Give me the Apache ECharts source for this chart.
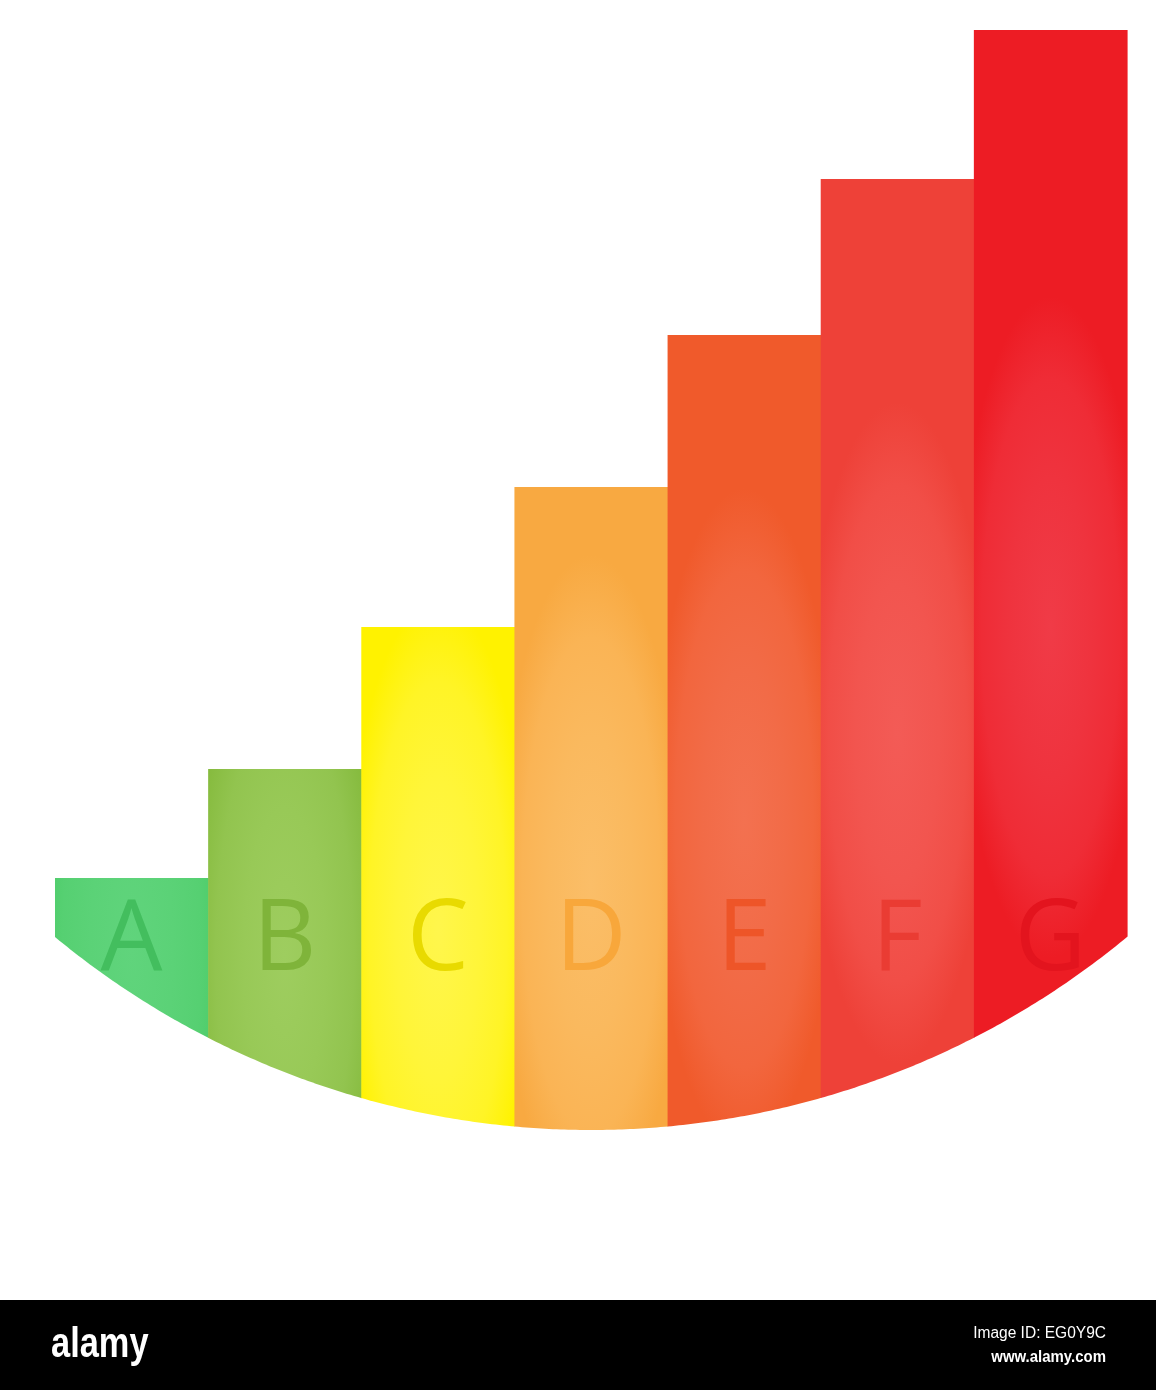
<!DOCTYPE html>
<html>
<head>
<meta charset="utf-8">
<script src="https://cdn.jsdelivr.net/npm/echarts@6/dist/echarts.min.js"></script>
<style>html,body{margin:0;padding:0;background:#fff}#chart{width:1156px;height:1390px}</style>
</head>
<body>
<div id="chart"></div>
<script>
// Data
var categories = ['A', 'B', 'C', 'D', 'E', 'F', 'G'];
var values = [25.2, 36.1, 50.3, 64.3, 79.5, 95.1, 110];
var edgeColors = ['#4bcb67', '#86bb3e', '#fff200', '#f8a941', '#f05a2b', '#ee4138', '#ed1c24'];
var midColors = ['#60d47c', '#9ecd5f', '#fff64c', '#fbbe68', '#f37150', '#f35b56', '#f03b47'];
var letterColors = ['#43be5e', '#7fb43a', '#e8da00', '#f8a73b', '#ee5528', '#ea3c33', '#e3141e'];
var ARC_EDGE = 19.3;   // value of the arc at the left/right edges of the plot
var LETTER_VALUE = 18.8;
var GLOW_POS = 0.62;   // where the highlight sits, as a share of the bar height
var GLOW_STRETCH = 3.6;

var chart = echarts.init(document.getElementById('chart'), null, {renderer: 'canvas'});

function renderItem(params, api) {
  var cs = params.coordSys;
  var i = api.value(0);
  var top = api.coord([i, api.value(1)]);
  var bw = api.size([1, 0])[0];
  var x0 = top[0] - bw / 2, x1 = top[0] + bw / 2 + 0.6;
  var cx = cs.x + cs.width / 2;
  var yLow = api.coord([i, 0])[1];
  var yEdge = api.coord([i, ARC_EDGE])[1];
  var half = cs.width / 2;
  var d = yLow - yEdge;
  var R = (half * half + d * d) / (2 * d);
  var cy = yLow - R;
  function arcY(x) { var dx = x - cx; return cy + Math.sqrt(Math.max(0, R * R - dx * dx)); }
  var bottomMid = arcY(top[0]);
  var oy = top[1] + (bottomMid - top[1]) * GLOW_POS;
  var s = GLOW_STRETCH;
  var pts = [[x0, (top[1] - oy) / s], [x1, (top[1] - oy) / s]];
  var N = 40;
  for (var k = 0; k <= N; k++) {
    var x = x1 - (x1 - x0) * k / N;
    pts.push([x, (arcY(x) - oy) / s]);
  }
  var idx = params.dataIndex;
  var mix = echarts.color.lerp(0.5, [midColors[idx], edgeColors[idx]]);
  return {
    type: 'group',
    children: [
      {
        type: 'polygon',
        y: oy,
        scaleY: s,
        shape: {points: pts},
        style: {
          fill: new echarts.graphic.RadialGradient(top[0], 0, bw * 0.6, [
            {offset: 0, color: midColors[idx]},
            {offset: 0.45, color: echarts.color.lerp(0.25, [midColors[idx], edgeColors[idx]])},
            {offset: 0.75, color: mix},
            {offset: 1, color: edgeColors[idx]}
          ], true)
        }
      },
      {
        type: 'text',
        style: {
          text: categories[idx],
          x: top[0],
          y: api.coord([i, LETTER_VALUE])[1],
          align: 'center',
          verticalAlign: 'middle',
          fontFamily: 'Open Sans',
          fontWeight: 'normal',
          fontSize: 98,
          fill: letterColors[idx]
        }
      }
    ]
  };
}

var data = values.map(function (v, i) { return [i, v]; });

chart.setOption({
  animation: false,
  backgroundColor: '#ffffff',
  grid: {left: 55, right: 29, top: 30, bottom: 260},
  xAxis: {type: 'category', data: categories, show: false, boundaryGap: true},
  yAxis: {type: 'value', min: 0, max: 110, show: false},
  series: [{
    type: 'custom',
    renderItem: renderItem,
    data: data,
    clip: false
  }],
  graphic: [
    {type: 'rect', left: 0, top: 1300, shape: {width: 1156, height: 90}, style: {fill: '#000000'}},
    {type: 'text', x: 51, y: 1345, scaleX: 0.8,
      style: {text: 'alamy', x: 0, y: 0, verticalAlign: 'middle', fill: '#ffffff', fontFamily: 'Liberation Sans', fontWeight: 'bold', fontSize: 43}},
    {type: 'text', x: 1106, y: 1334, scaleX: 0.97,
      style: {text: 'Image ID: EG0Y9C', x: 0, y: 0, align: 'right', verticalAlign: 'middle', fill: '#ffffff', fontFamily: 'Liberation Sans', fontSize: 16}},
    {type: 'text', x: 1106, y: 1357, scaleX: 0.88,
      style: {text: 'www.alamy.com', x: 0, y: 0, align: 'right', verticalAlign: 'middle', fill: '#ffffff', fontFamily: 'Liberation Sans', fontWeight: 'bold', fontSize: 17}}
  ]
});
</script>
</body>
</html>
